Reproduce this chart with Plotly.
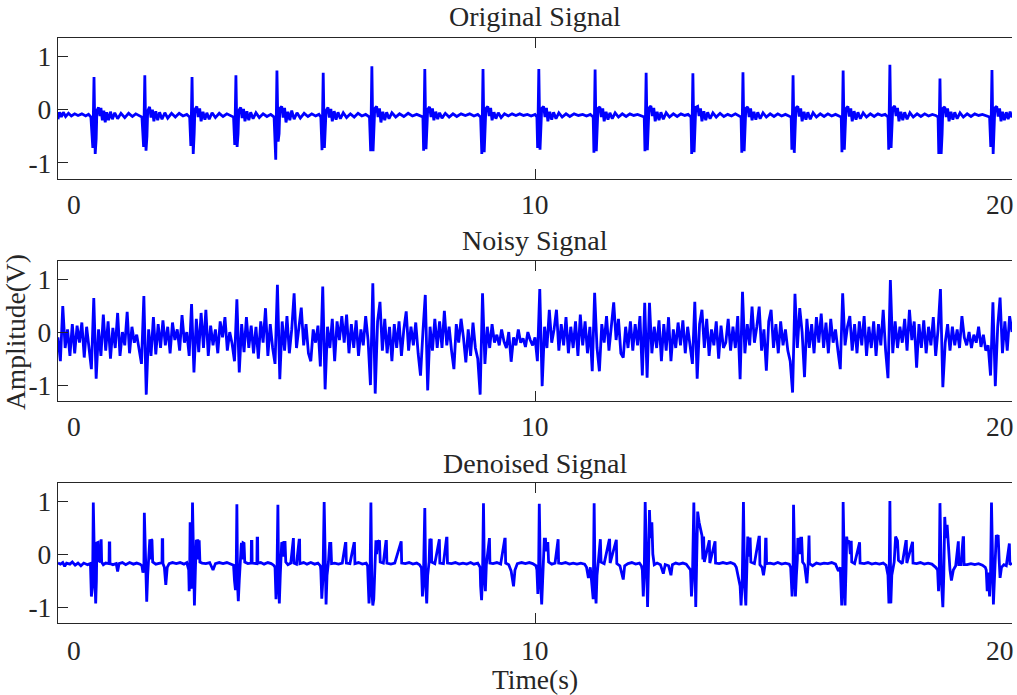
import plotly.graph_objects as go

# ---------------- data ----------------
# Original signal: (time s, amplitude V) vertices
orig_pts = [
    (0.00, -0.18), (0.03, -0.05), (0.07, -0.14), (0.11, -0.05), (0.16, -0.13), (0.22, -0.07), (0.28, -0.12),
    (0.35, -0.08), (0.42, -0.11), (0.50, -0.08), (0.58, -0.12), (0.64, -0.09), (0.69, -0.14),
    (0.73, -0.72), (0.755, 0.61), (0.78, -0.83), (0.80, -0.55), (0.815, -0.02),
    (0.85, 0.04), (0.88, -0.12), (0.90, 0.03), (0.93, -0.20), (0.96, -0.02), (0.99, -0.24), (1.02, -0.05),
    (1.06, -0.20), (1.10, -0.04), (1.14, -0.18), (1.19, -0.06), (1.25, -0.17), (1.32, -0.07), (1.40, -0.15),
    (1.48, -0.07), (1.56, -0.13), (1.63, -0.08), (1.70, -0.11), (1.76, -0.14),
    (1.795, -0.70), (1.82, 0.64), (1.845, -0.77), (1.865, -0.50), (1.88, -0.03), (1.92, 0.05), (1.95, -0.15),
    (1.98, 0.00), (2.01, -0.22), (2.05, -0.03), (2.09, -0.20), (2.13, -0.05), (2.18, -0.18), (2.24, -0.06),
    (2.30, -0.16), (2.38, -0.07), (2.46, -0.14), (2.54, -0.07), (2.62, -0.12), (2.70, -0.09), (2.76, -0.14),
    (2.785, -0.68), (2.81, 0.61), (2.835, -0.83), (2.855, -0.45), (2.87, 0.00), (2.91, 0.06), (2.94, -0.14),
    (2.97, 0.02), (3.00, -0.22), (3.04, -0.04), (3.08, -0.19), (3.12, -0.06), (3.17, -0.18), (3.23, -0.06),
    (3.30, -0.15), (3.38, -0.07), (3.46, -0.13), (3.54, -0.08), (3.62, -0.11), (3.68, -0.14),
    (3.705, -0.66), (3.73, 0.64), (3.755, -0.70), (3.775, -0.45), (3.79, -0.02), (3.83, 0.04), (3.86, -0.16),
    (3.89, 0.01), (3.92, -0.22), (3.96, -0.03), (4.00, -0.20), (4.04, -0.05), (4.09, -0.17), (4.15, -0.06),
    (4.22, -0.15), (4.30, -0.08), (4.38, -0.13), (4.46, -0.09), (4.53, -0.14),
    (4.565, -0.94), (4.59, 0.73), (4.615, -0.60), (4.635, -0.45), (4.65, 0.02), (4.69, 0.06), (4.72, -0.15),
    (4.75, 0.03), (4.78, -0.24), (4.82, -0.04), (4.86, -0.20), (4.90, -0.02), (4.95, -0.18), (5.01, -0.06),
    (5.08, -0.16), (5.16, -0.07), (5.24, -0.13), (5.32, -0.08), (5.40, -0.12), (5.47, -0.09), (5.51, -0.14),
    (5.535, -0.76), (5.56, 0.69), (5.585, -0.72), (5.605, -0.40), (5.62, -0.02), (5.66, 0.04), (5.69, -0.15),
    (5.72, 0.01), (5.75, -0.22), (5.79, -0.03), (5.83, -0.19), (5.87, -0.05), (5.92, -0.17), (5.98, -0.06),
    (6.05, -0.15), (6.13, -0.08), (6.21, -0.14), (6.29, -0.07), (6.37, -0.12), (6.45, -0.09), (6.53, -0.14),
    (6.555, -0.78), (6.58, 0.81), (6.605, -0.78), (6.625, -0.45), (6.64, 0.02), (6.68, 0.06), (6.71, -0.14),
    (6.74, 0.02), (6.77, -0.24), (6.81, -0.04), (6.85, -0.20), (6.89, -0.05), (6.94, -0.17), (7.00, -0.06),
    (7.08, -0.14), (7.16, -0.08), (7.25, -0.13), (7.34, -0.07), (7.43, -0.12), (7.52, -0.09), (7.60, -0.12),
    (7.65, -0.14),
    (7.665, -0.77), (7.69, 0.76), (7.715, -0.74), (7.735, -0.40), (7.75, 0.00), (7.79, 0.05), (7.82, -0.14),
    (7.85, 0.02), (7.88, -0.20), (7.92, -0.04), (7.96, -0.18), (8.00, -0.06), (8.05, -0.16), (8.12, -0.07),
    (8.20, -0.14), (8.28, -0.08), (8.36, -0.13), (8.45, -0.08), (8.54, -0.11), (8.63, -0.08), (8.72, -0.12),
    (8.80, -0.09), (8.86, -0.14),
    (8.885, -0.83), (8.91, 0.76), (8.935, -0.80), (8.955, -0.45), (8.97, 0.02), (9.01, 0.06), (9.04, -0.12),
    (9.07, 0.03), (9.10, -0.20), (9.14, -0.05), (9.18, -0.17), (9.23, -0.06), (9.29, -0.15), (9.36, -0.08),
    (9.44, -0.12), (9.52, -0.08), (9.60, -0.11), (9.68, -0.08), (9.76, -0.11), (9.84, -0.09), (9.92, -0.12),
    (10.00, -0.09), (10.04, -0.14),
    (10.055, -0.72), (10.08, 0.76), (10.105, -0.75), (10.125, -0.40), (10.14, 0.02), (10.18, 0.06),
    (10.21, -0.14), (10.24, 0.03), (10.27, -0.22), (10.31, -0.04), (10.35, -0.19), (10.39, -0.05),
    (10.44, -0.17), (10.50, -0.06), (10.57, -0.14), (10.65, -0.08), (10.73, -0.13), (10.82, -0.08),
    (10.91, -0.11), (11.00, -0.09), (11.08, -0.12), (11.16, -0.09), (11.22, -0.14),
    (11.235, -0.81), (11.26, 0.75), (11.285, -0.78), (11.305, -0.42), (11.32, 0.02), (11.36, 0.05),
    (11.39, -0.14), (11.42, 0.02), (11.45, -0.22), (11.49, -0.04), (11.53, -0.19), (11.57, -0.06),
    (11.62, -0.17), (11.68, -0.06), (11.75, -0.14), (11.83, -0.08), (11.91, -0.13), (11.99, -0.08),
    (12.07, -0.11), (12.15, -0.09), (12.23, -0.12), (12.29, -0.14),
    (12.305, -0.78), (12.33, 0.69), (12.355, -0.76), (12.375, -0.40), (12.39, 0.03), (12.43, 0.07),
    (12.46, -0.12), (12.49, 0.03), (12.52, -0.22), (12.56, -0.04), (12.60, -0.20), (12.64, -0.05),
    (12.69, -0.18), (12.75, -0.06), (12.82, -0.14), (12.90, -0.08), (12.98, -0.13), (13.06, -0.08),
    (13.14, -0.11), (13.21, -0.09), (13.27, -0.14),
    (13.285, -0.83), (13.31, 0.68), (13.335, -0.80), (13.355, -0.42), (13.37, 0.04), (13.41, 0.06),
    (13.44, -0.12), (13.47, 0.02), (13.50, -0.22), (13.54, -0.03), (13.58, -0.20), (13.62, -0.05),
    (13.67, -0.17), (13.73, -0.06), (13.80, -0.14), (13.88, -0.07), (13.96, -0.13), (14.04, -0.09),
    (14.12, -0.12), (14.20, -0.08), (14.27, -0.11), (14.32, -0.14),
    (14.335, -0.81), (14.36, 0.70), (14.385, -0.78), (14.405, -0.42), (14.42, 0.02), (14.46, 0.05),
    (14.49, -0.14), (14.52, 0.02), (14.55, -0.20), (14.59, -0.04), (14.63, -0.19), (14.67, -0.05),
    (14.72, -0.17), (14.78, -0.06), (14.85, -0.14), (14.93, -0.08), (15.01, -0.13), (15.09, -0.08),
    (15.17, -0.12), (15.25, -0.09), (15.32, -0.12), (15.37, -0.14),
    (15.385, -0.75), (15.41, 0.64), (15.435, -0.81), (15.455, -0.45), (15.47, 0.03), (15.51, 0.06),
    (15.54, -0.13), (15.57, 0.02), (15.60, -0.22), (15.64, -0.04), (15.68, -0.19), (15.72, -0.05),
    (15.77, -0.18), (15.83, -0.06), (15.90, -0.14), (15.98, -0.08), (16.06, -0.13), (16.14, -0.08),
    (16.22, -0.12), (16.30, -0.09), (16.37, -0.12), (16.42, -0.14),
    (16.435, -0.80), (16.46, 0.73), (16.485, -0.75), (16.505, -0.40), (16.52, 0.02), (16.56, 0.06),
    (16.59, -0.13), (16.62, 0.02), (16.65, -0.22), (16.69, -0.03), (16.73, -0.19), (16.77, -0.05),
    (16.82, -0.17), (16.88, -0.06), (16.95, -0.14), (17.03, -0.08), (17.11, -0.13), (17.19, -0.08),
    (17.27, -0.11), (17.34, -0.09), (17.40, -0.14),
    (17.415, -0.75), (17.44, 0.84), (17.465, -0.72), (17.485, -0.40), (17.50, 0.03), (17.54, 0.07),
    (17.57, -0.12), (17.60, 0.03), (17.63, -0.22), (17.67, -0.04), (17.71, -0.20), (17.75, -0.05),
    (17.80, -0.18), (17.86, -0.06), (17.93, -0.14), (18.01, -0.08), (18.09, -0.13), (18.17, -0.08),
    (18.25, -0.12), (18.33, -0.09), (18.40, -0.11), (18.45, -0.14),
    (18.465, -0.83), (18.49, 0.58), (18.515, -0.83), (18.535, -0.45), (18.55, 0.02), (18.59, 0.05),
    (18.62, -0.14), (18.65, 0.02), (18.68, -0.22), (18.72, -0.04), (18.76, -0.19), (18.80, -0.05),
    (18.85, -0.17), (18.91, -0.06), (18.98, -0.14), (19.06, -0.08), (19.14, -0.13), (19.22, -0.08),
    (19.30, -0.11), (19.38, -0.09), (19.46, -0.12), (19.53, -0.14),
    (19.555, -0.70), (19.58, 0.74), (19.605, -0.83), (19.625, -0.45), (19.64, 0.03), (19.68, 0.06),
    (19.71, -0.13), (19.74, 0.02), (19.77, -0.22), (19.80, -0.04), (19.84, -0.20), (19.88, -0.05),
    (19.92, -0.18), (19.96, -0.04), (20.00, -0.15),
]

# Noisy signal: one row per second, sampled every 0.05 s
noisy_dt = 0.05
noisy_rows = [
    [-0.10, -0.55, 0.49, -0.30, 0.05, -0.45, 0.15, -0.40, 0.12, -0.20, 0.18, -0.48, 0.10, -0.25, -0.70, 0.64, -0.88, 0.05, -0.45, 0.33],
    [-0.35, 0.20, -0.50, 0.08, -0.30, 0.36, -0.45, 0.00, -0.25, 0.38, -0.40, 0.10, -0.20, -0.05, -0.35, -0.60, 0.68, -1.18, 0.05, -0.45],
    [0.28, -0.42, 0.15, -0.30, 0.22, -0.25, 0.10, -0.40, 0.18, -0.15, 0.05, -0.35, 0.32, -0.20, 0.00, -0.45, 0.53, -0.76, 0.25, -0.38],
    [0.36, -0.30, 0.42, -0.45, 0.12, -0.25, 0.05, -0.40, 0.20, -0.10, 0.28, -0.35, 0.00, -0.22, -0.55, 0.62, -0.76, 0.15, -0.38, 0.28],
    [-0.30, 0.12, -0.40, 0.10, -0.50, 0.20, -0.20, 0.45, -0.45, 0.15, -0.30, -0.60, 0.89, -0.89, 0.20, -0.35, 0.30, -0.40, 0.05, 0.73],
    [-0.30, 0.10, 0.46, -0.25, 0.15, -0.40, -0.55, 0.05, -0.20, 0.12, -0.65, 0.86, -1.08, 0.10, -0.30, 0.25, -0.55, 0.20, -0.15, 0.30],
    [-0.20, 0.33, -0.40, 0.15, -0.30, 0.22, -0.45, 0.05, -0.25, 0.30, -0.15, -1.00, 0.92, -1.16, 0.20, 0.57, -0.35, 0.25, -0.40, 0.10],
    [-0.55, 0.15, -0.30, 0.20, -0.45, 0.05, 0.39, -0.35, 0.10, -0.25, 0.18, -0.40, -0.82, 0.00, 0.70, -1.10, 0.10, -0.35, 0.25, -0.30],
    [0.20, -0.30, 0.40, -0.25, 0.10, -0.35, -0.70, 0.15, -0.20, 0.25, -0.10, -0.57, 0.05, -0.45, 0.18, -0.30, -0.50, -1.18, 0.73, -0.60],
    [0.10, -0.30, 0.15, -0.20, -0.05, -0.25, 0.05, -0.18, -0.30, 0.00, -0.56, -0.10, -0.25, 0.05, -0.20, -0.12, -0.28, 0.00, -0.15, -0.25],
    [-0.10, -0.55, 0.81, -1.02, 0.10, -0.30, 0.42, -0.20, 0.05, 0.42, -0.35, 0.15, -0.25, 0.28, -0.40, 0.10, -0.30, 0.20, -0.45, 0.33],
    [-0.25, 0.20, -0.40, 0.10, -0.74, 0.74, -0.30, -0.74, 0.15, -0.20, 0.30, -0.35, 0.05, 0.56, -0.15, 0.25, -0.40, -0.48, 0.10, -0.30],
    [0.20, -0.35, 0.15, -0.25, 0.30, -0.82, 0.55, -0.86, 0.55, -0.40, 0.10, -0.30, 0.22, -0.55, 0.15, -0.35, 0.28, -0.55, 0.05, -0.30],
    [0.18, -0.25, 0.22, -0.40, 0.10, -0.30, -0.60, 0.57, -0.88, 0.15, 0.42, -0.30, 0.25, -0.45, 0.05, -0.25, 0.20, -0.50, 0.12, -0.30],
    [-0.20, 0.25, -0.35, 0.10, -0.30, 0.30, -0.89, 0.76, -0.40, 0.15, -0.25, 0.48, -0.20, 0.10, 0.48, -0.35, 0.05, -0.73, 0.20, 0.42],
    [-0.30, 0.15, -0.40, 0.20, -0.25, 0.05, -0.35, -0.55, -1.14, 0.72, -0.30, 0.45, 0.00, -0.85, 0.25, -0.30, 0.15, -0.40, 0.28, -0.20],
    [0.35, -0.30, 0.18, -0.40, 0.25, -0.20, 0.05, -0.35, -0.70, 0.73, -0.25, 0.10, 0.30, -0.35, 0.15, -0.40, 0.20, -0.25, 0.30, -0.45],
    [0.10, -0.30, 0.20, -0.45, 0.15, -0.25, 0.42, -0.35, -0.87, 0.98, -0.40, 0.20, -0.30, 0.10, -0.20, 0.25, -0.35, 0.42, -0.15, 0.20],
    [-0.67, 0.15, -0.30, 0.22, -0.40, 0.10, -0.25, 0.28, -0.45, 0.05, 0.81, -1.04, -0.20, 0.15, -0.35, 0.10, -0.25, 0.05, -0.30, 0.30],
    [-0.10, -0.25, 0.00, -0.30, -0.05, -0.20, 0.10, -0.28, -0.05, -0.35, -0.25, -0.82, 0.56, -1.02, 0.10, 0.65, -0.40, 0.20, -0.35, 0.30],
    [0.00],
]

# Denoised signal: (time s, amplitude V) vertices
den_pts = [
    (0.00, -0.17), (0.05, -0.19), (0.10, -0.16), (0.14, -0.23), (0.18, -0.17), (0.25, -0.19), (0.30, -0.15),
    (0.36, -0.21), (0.42, -0.17), (0.48, -0.22), (0.54, -0.17), (0.62, -0.20), (0.68, -0.18),
    (0.70, -0.80), (0.725, -0.60), (0.74, 0.97), (0.765, -0.20), (0.79, -0.93), (0.805, -0.50), (0.815, 0.21),
    (0.84, 0.22), (0.85, -0.12), (0.885, -0.15), (0.895, 0.28), (0.905, 0.28), (0.915, -0.15), (0.95, -0.20),
    (1.00, -0.17), (1.07, -0.18), (1.075, 0.21), (1.085, 0.21), (1.09, -0.18), (1.15, -0.20), (1.22, -0.18),
    (1.25, -0.33), (1.28, -0.18), (1.35, -0.16), (1.42, -0.20), (1.50, -0.16), (1.58, -0.19), (1.65, -0.17),
    (1.72, -0.19), (1.76, -0.22),
    (1.78, -0.35), (1.80, -0.30), (1.81, 0.78), (1.835, -0.10), (1.86, -0.90), (1.88, -0.40), (1.90, -0.15),
    (1.925, 0.28), (1.94, -0.10), (1.955, 0.28), (1.97, 0.26), (1.985, -0.15), (2.05, -0.19), (2.12, -0.17),
    (2.18, -0.16), (2.185, 0.27), (2.195, 0.27), (2.20, -0.18), (2.23, -0.25), (2.26, -0.58), (2.29, -0.25),
    (2.33, -0.18), (2.40, -0.16), (2.48, -0.18), (2.56, -0.16), (2.64, -0.19), (2.70, -0.16), (2.74, -0.30),
    (2.75, -0.70), (2.76, -0.40), (2.77, 0.60), (2.78, -0.60), (2.80, -0.65), (2.82, 0.97), (2.84, -0.50),
    (2.86, -0.97), (2.88, -0.30), (2.90, 0.27), (2.915, -0.05), (2.93, 0.28), (2.945, -0.10), (2.96, 0.26),
    (2.975, -0.15), (3.02, -0.17), (3.10, -0.18), (3.18, -0.16), (3.25, -0.30), (3.30, -0.18), (3.38, -0.16),
    (3.46, -0.18), (3.54, -0.16), (3.62, -0.19), (3.68, -0.21),
    (3.70, -0.50), (3.72, -0.68), (3.735, -0.40), (3.75, 0.94), (3.765, -0.60), (3.78, -0.89), (3.80, -0.50),
    (3.82, -0.15), (3.845, 0.21), (3.86, -0.10), (3.88, 0.21), (3.90, 0.20), (3.915, -0.15), (3.98, -0.18),
    (4.05, -0.17), (4.055, 0.24), (4.065, 0.24), (4.07, -0.17), (4.17, -0.18), (4.175, 0.30), (4.185, 0.30),
    (4.19, -0.17), (4.25, -0.16), (4.32, -0.19), (4.40, -0.16), (4.47, -0.18), (4.52, -0.21),
    (4.55, -0.25), (4.57, -0.85), (4.59, -0.40), (4.61, 0.93), (4.625, -0.50), (4.64, -0.93), (4.66, -0.40),
    (4.68, -0.10), (4.69, 0.22), (4.71, 0.20), (4.72, -0.05), (4.74, 0.22), (4.76, 0.22), (4.775, -0.15),
    (4.82, -0.20), (4.88, -0.17), (4.925, 0.30), (4.935, 0.30), (4.945, -0.17), (5.00, -0.19), (5.055, 0.26),
    (5.065, 0.26), (5.07, -0.18), (5.15, -0.16), (5.22, -0.19), (5.30, -0.16), (5.38, -0.19), (5.45, -0.17),
    (5.50, -0.22),
    (5.51, -0.30), (5.53, -0.84), (5.555, -0.45), (5.58, 0.98), (5.60, -0.50), (5.62, -0.95), (5.64, -0.40),
    (5.67, -0.15), (5.695, 0.20), (5.72, 0.20), (5.735, -0.18), (5.80, -0.17), (5.88, -0.19), (5.96, -0.17),
    (6.025, 0.20), (6.035, 0.20), (6.045, -0.17), (6.12, -0.18), (6.205, 0.20), (6.215, 0.20), (6.225, -0.18),
    (6.30, -0.16), (6.38, -0.19), (6.46, -0.17), (6.49, -0.22),
    (6.50, -0.40), (6.52, -0.93), (6.54, -0.60), (6.56, 0.97), (6.58, -0.70), (6.60, -0.97), (6.62, -0.85),
    (6.64, -0.20), (6.665, 0.26), (6.68, 0.00), (6.70, 0.26), (6.72, 0.22), (6.74, 0.26), (6.755, -0.15),
    (6.82, -0.17), (6.875, 0.24), (6.885, 0.24), (6.895, -0.17), (6.98, -0.19), (7.06, -0.17), (7.185, 0.24),
    (7.195, 0.24), (7.205, -0.17), (7.28, -0.18), (7.36, -0.16), (7.44, -0.19), (7.52, -0.17), (7.58, -0.20),
    (7.62, -0.26),
    (7.64, -0.80), (7.66, -0.50), (7.69, 0.87), (7.71, -0.60), (7.73, -0.93), (7.75, -0.40), (7.78, -0.15),
    (7.795, 0.29), (7.81, 0.10), (7.825, 0.29), (7.835, -0.15), (7.90, -0.18), (7.985, 0.28), (7.995, 0.28),
    (8.005, -0.17), (8.08, -0.18), (8.145, 0.30), (8.155, 0.30), (8.165, -0.17), (8.25, -0.18), (8.33, -0.16),
    (8.41, -0.19), (8.49, -0.17), (8.57, -0.19), (8.65, -0.16), (8.72, -0.19), (8.80, -0.17), (8.85, -0.25),
    (8.86, -0.60), (8.88, -0.87), (8.90, -0.40), (8.92, 0.96), (8.94, -0.40), (8.96, -0.70), (8.98, -0.20),
    (9.035, 0.30), (9.045, 0.30), (9.055, -0.17), (9.12, -0.18), (9.20, -0.16), (9.28, -0.19), (9.365, 0.28),
    (9.375, 0.28), (9.385, -0.17), (9.45, -0.20), (9.50, -0.32), (9.55, -0.61), (9.58, -0.30), (9.63, -0.18),
    (9.72, -0.16), (9.80, -0.18), (9.88, -0.16), (9.95, -0.18), (10.02, -0.22),
    (10.04, -0.30), (10.06, -0.75), (10.075, -0.40), (10.09, 0.95), (10.115, -0.50), (10.14, -0.95),
    (10.16, -0.40), (10.18, -0.10), (10.195, 0.28), (10.22, 0.28), (10.235, 0.05), (10.25, 0.20),
    (10.27, 0.20), (10.285, -0.15), (10.35, -0.19), (10.42, -0.17), (10.475, 0.28), (10.485, 0.28),
    (10.495, -0.17), (10.56, -0.18), (10.64, -0.16), (10.72, -0.19), (10.80, -0.17), (10.88, -0.19),
    (10.96, -0.17), (11.04, -0.19),
    (11.08, -0.25), (11.12, -0.45), (11.16, -0.25), (11.20, -0.60), (11.22, -0.85), (11.24, 0.96),
    (11.26, -0.60), (11.28, -0.93), (11.30, -0.40), (11.33, -0.12), (11.355, 0.28), (11.37, 0.28),
    (11.385, -0.15), (11.45, -0.18), (11.555, 0.26), (11.565, 0.26), (11.575, -0.17), (11.695, 0.27),
    (11.705, 0.27), (11.715, -0.18), (11.78, -0.22), (11.85, -0.48), (11.88, -0.22), (11.95, -0.18),
    (12.03, -0.16), (12.11, -0.19), (12.19, -0.17), (12.23, -0.22),
    (12.25, -0.30), (12.27, -0.80), (12.29, -0.40), (12.31, 0.98), (12.335, -0.40), (12.36, -1.00),
    (12.38, -0.20), (12.40, 0.83), (12.42, 0.30), (12.45, 0.60), (12.47, 0.00), (12.50, -0.20),
    (12.56, -0.17), (12.63, -0.20), (12.69, -0.37), (12.73, -0.20), (12.80, -0.22), (12.85, -0.40),
    (12.88, -0.20), (12.95, -0.17), (13.02, -0.19), (13.10, -0.17), (13.17, -0.19), (13.22, -0.25),
    (13.26, -0.30), (13.28, -0.80), (13.30, -0.50), (13.33, 0.97), (13.35, -0.40), (13.37, -1.00),
    (13.39, -0.10), (13.41, 0.80), (13.44, 0.60), (13.47, 0.50), (13.50, 0.35), (13.52, -0.10),
    (13.535, 0.33), (13.55, -0.15), (13.645, 0.26), (13.655, 0.26), (13.665, -0.17), (13.765, 0.24),
    (13.775, 0.24), (13.785, -0.17), (13.86, -0.18), (13.94, -0.16), (14.02, -0.18), (14.10, -0.16),
    (14.18, -0.19), (14.22, -0.25),
    (14.26, -0.40), (14.30, -0.60), (14.32, -0.97), (14.345, -0.50), (14.37, 0.98), (14.395, -0.60),
    (14.42, -0.97), (14.44, -0.30), (14.46, 0.33), (14.485, -0.05), (14.51, 0.31), (14.525, -0.15),
    (14.60, -0.18), (14.695, 0.32), (14.705, 0.32), (14.715, -0.20), (14.76, -0.25), (14.79, -0.40),
    (14.82, -0.22), (14.835, 0.28), (14.845, 0.28), (14.855, -0.18), (14.93, -0.17), (15.01, -0.19),
    (15.09, -0.16), (15.17, -0.19), (15.25, -0.17), (15.33, -0.19),
    (15.36, -0.25), (15.39, -0.80), (15.41, -0.40), (15.42, 0.93), (15.44, -0.50), (15.46, -0.80),
    (15.48, -0.40), (15.50, -0.10), (15.51, 0.30), (15.53, 0.25), (15.55, 0.00), (15.57, 0.30),
    (15.59, 0.30), (15.61, -0.15), (15.65, -0.20), (15.70, -0.55), (15.725, -0.20), (15.735, 0.35),
    (15.745, 0.35), (15.755, -0.18), (15.82, -0.22), (15.90, -0.17), (15.98, -0.19), (16.06, -0.17),
    (16.14, -0.18), (16.22, -0.16), (16.30, -0.19), (16.36, -0.32),
    (16.40, -0.25), (16.43, -0.97), (16.45, -0.60), (16.46, 0.98), (16.48, -0.60), (16.50, -0.97),
    (16.52, -0.30), (16.535, 0.33), (16.55, 0.20), (16.57, 0.25), (16.59, 0.22), (16.61, 0.00),
    (16.63, 0.25), (16.64, -0.15), (16.70, -0.18), (16.795, 0.22), (16.805, 0.22), (16.815, -0.17),
    (16.90, -0.18), (16.98, -0.16), (17.06, -0.19), (17.14, -0.17), (17.22, -0.19), (17.30, -0.17),
    (17.36, -0.21),
    (17.40, -0.40), (17.42, -0.93), (17.44, 1.00), (17.46, -0.93), (17.48, -0.40), (17.53, -0.15),
    (17.56, 0.33), (17.58, 0.30), (17.60, 0.25), (17.62, -0.12), (17.70, -0.18), (17.775, 0.24),
    (17.785, 0.24), (17.795, -0.17), (17.905, 0.23), (17.915, 0.23), (17.925, -0.17), (18.00, -0.18),
    (18.08, -0.16), (18.16, -0.19), (18.24, -0.17), (18.32, -0.19), (18.40, -0.25),
    (18.44, -0.30), (18.46, -0.70), (18.475, -0.30), (18.49, 0.96), (18.52, -0.50), (18.55, -1.00),
    (18.57, -0.40), (18.59, 0.70), (18.615, 0.30), (18.64, 0.55), (18.67, 0.00), (18.70, -0.30),
    (18.73, -0.50), (18.77, -0.30), (18.82, -0.22), (18.865, 0.24), (18.875, 0.24), (18.885, -0.20),
    (18.93, -0.20), (18.975, 0.31), (18.985, 0.31), (18.995, -0.20), (19.06, -0.20), (19.14, -0.18),
    (19.22, -0.20), (19.30, -0.18), (19.38, -0.21), (19.44, -0.25),
    (19.46, -0.30), (19.48, -0.70), (19.50, -0.35), (19.53, -0.80), (19.55, -0.40), (19.57, 0.97),
    (19.59, -0.50), (19.61, -0.95), (19.64, -0.30), (19.67, 0.36), (19.69, 0.30), (19.71, 0.36),
    (19.73, -0.10), (19.75, -0.45), (19.78, -0.25), (19.83, -0.20), (19.88, -0.22), (19.935, 0.20),
    (19.945, 0.20), (19.955, -0.20), (20.00, -0.17),
]

panel_titles = ["Original Signal", "Noisy Signal", "Denoised Signal"]
x_ticks = [0, 10, 20]
x_ticktext = ["0", "10", "20"]
y_ticks = [-1, 0, 1]
y_ticktext = ["-1", "0", "1"]
x_label = "Time(s)"
y_label = "Amplitude(V)"

# ---------------- build series ----------------
orig_t = [p[0] for p in orig_pts]
orig_v = [p[1] for p in orig_pts]
noisy_v = [v for row in noisy_rows for v in row]
noisy_t = [round(i * noisy_dt, 3) for i in range(len(noisy_v))]
den_t = [p[0] for p in den_pts]
den_v = [p[1] for p in den_pts]

FONT = "Liberation Serif, Times New Roman, serif"
AX = "#262626"
BLUE = "#0000FF"
FS = 27.5
FS_TITLE = 28

W, H = 1017, 695
ML, MR, MT, MB = 58, 5, 38, 72
PH = H - MT - MB

def py(px):  # pixel row -> paper y
    return (H - MB - px) / PH

domains = [(py(179), 1.0), (py(401), py(261)), (0.0, py(483))]
xlabel_rows = [204, 426, 650]        # pixel rows of the x tick label centres
xlabel_shift = [16, 0, -12]          # edge labels sit inside the frame, as in the reference

fig = go.Figure()
series = [(orig_t, orig_v), (noisy_t, noisy_v), (den_t, den_v)]
for i, (t, v) in enumerate(series):
    sfx = "" if i == 0 else str(i + 1)
    fig.add_trace(go.Scatter(x=t, y=v, mode="lines", line=dict(color=BLUE, width=2.8),
                             xaxis="x" + sfx, yaxis="y" + sfx, showlegend=False, hoverinfo="skip"))

layout = dict(
    width=W, height=H, margin=dict(l=ML, r=MR, t=MT, b=MB),
    paper_bgcolor="white", plot_bgcolor="white",
    font=dict(family=FONT, size=FS, color=AX),
    showlegend=False,
)
for i in range(3):
    sfx = "" if i == 0 else str(i + 1)
    layout["xaxis" + sfx] = dict(
        domain=[0, 1], anchor="y" + sfx, range=[0, 20],
        tickmode="array", tickvals=x_ticks, ticks="inside", ticklen=10, tickwidth=1.3, tickcolor=AX,
        showticklabels=False,
        showline=True, linecolor=AX, linewidth=1.3, mirror="ticks",
        showgrid=False, zeroline=False,
    )
    layout["yaxis" + sfx] = dict(
        domain=list(domains[i]), anchor="x" + sfx, range=[-1.3, 1.34],
        tickmode="array", tickvals=y_ticks, ticktext=y_ticktext,
        ticks="inside", ticklen=10, tickwidth=1.3, tickcolor=AX,
        showline=True, linecolor=AX, linewidth=1.3, mirror=False,
        showgrid=False, zeroline=False,
        tickfont=dict(family=FONT, size=FS, color=AX),
    )
    # right-hand tick marks only (no spine line), as in the reference
    layout["yaxis" + str(i + 4)] = dict(
        overlaying="y" + sfx, side="right", anchor="x" + sfx, range=[-1.3, 1.34],
        tickmode="array", tickvals=y_ticks, ticks="inside", ticklen=10, tickwidth=1.3, tickcolor=AX,
        showticklabels=False, showline=False, showgrid=False, zeroline=False,
    )
fig.update_layout(**layout)

ann = []
# x tick labels (placed as text so the edge labels stay inside the page)
for i in range(3):
    sfx = "" if i == 0 else str(i + 1)
    for j, (v, txt) in enumerate(zip(x_ticks, x_ticktext)):
        ann.append(dict(text=txt, x=v, xref="x" + sfx, y=py(xlabel_rows[i]), yref="paper",
                        xanchor="center", yanchor="middle", xshift=xlabel_shift[j], showarrow=False,
                        font=dict(family=FONT, size=FS, color=AX)))
# panel titles: first one hangs from the top edge of the page so it is not clipped
ann.append(dict(text=panel_titles[0], x=0.5, y=py(0), xref="paper", yref="paper",
                xanchor="center", yanchor="top", borderpad=0, showarrow=False,
                font=dict(family=FONT, size=FS_TITLE, color=AX)))
title_y = [None, py(240), py(463)]
for i in (1, 2):
    ann.append(dict(text=panel_titles[i], x=0.5, y=title_y[i], xref="paper", yref="paper",
                    xanchor="center", yanchor="middle", showarrow=False,
                    font=dict(family=FONT, size=FS_TITLE, color=AX)))
ann.append(dict(text=x_label, x=0.5, y=py(679), xref="paper", yref="paper",
                xanchor="center", yanchor="middle", showarrow=False,
                font=dict(family=FONT, size=FS, color=AX)))
ann.append(dict(text=y_label, x=(15 - ML) / (W - ML - MR), y=py(332), xref="paper", yref="paper",
                xanchor="center", yanchor="middle", textangle=-90, showarrow=False,
                font=dict(family=FONT, size=FS, color=AX)))
fig.update_layout(annotations=ann)

fig.write_html(
    "out.html",
    config={"displayModeBar": False},
    post_script="document.body.style.margin='0';document.body.style.overflow='hidden';",
)
